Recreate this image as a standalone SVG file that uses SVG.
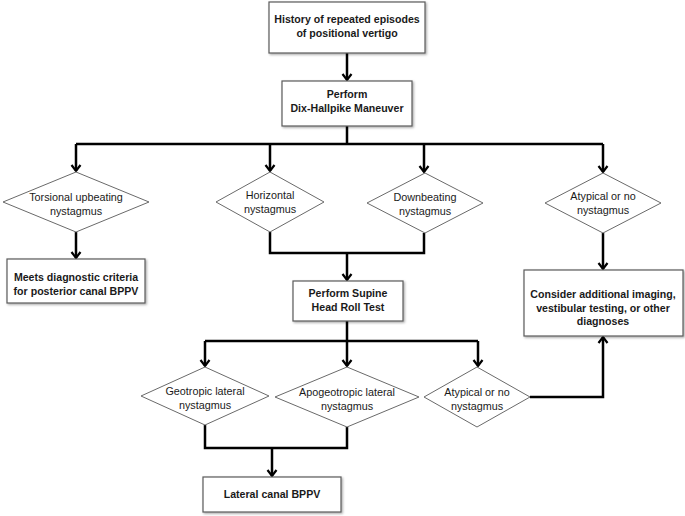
<svg xmlns="http://www.w3.org/2000/svg" width="685" height="516" viewBox="0 0 685 516">
<style>
.box{fill:#fff;stroke:#5a5a5a;stroke-width:1.2;filter:url(#sh)}
.dia{fill:#fff;stroke:#6a6a6a;stroke-width:1}
.bt{font-family:"Liberation Sans",Arial,sans-serif;font-weight:bold;font-size:10.6px;fill:#1a1a1a;text-anchor:middle}
.dt{font-family:"Liberation Sans",Arial,sans-serif;font-size:10.8px;fill:#1a1a1a;text-anchor:middle}
.c{fill:none;stroke:#000;stroke-width:2.5;stroke-linejoin:miter}
.a{marker-end:url(#ah)}
</style>
<defs>
<marker id="ah" markerUnits="userSpaceOnUse" markerWidth="14" markerHeight="14" viewBox="0 0 14 14" refX="11" refY="7" orient="auto">
<path d="M5,2.5 L11,7 L5,11.5" fill="none" stroke="#000" stroke-width="2.2"/>
</marker>
<filter id="sh" x="-5%" y="-5%" width="110%" height="115%">
<feDropShadow dx="1.2" dy="1.2" stdDeviation="0.8" flood-color="#000" flood-opacity="0.35"/>
</filter>
</defs>
<g id="connectors">
<path class="c a" d="M347,53 V80"/>
<path class="c" d="M347,126 V144 M76,144 H603"/>
<path class="c a" d="M76,144 V171"/>
<path class="c a" d="M270,144 V171"/>
<path class="c a" d="M424,144 V172"/>
<path class="c a" d="M603,144 V172"/>
<path class="c a" d="M76,232 V258"/>
<path class="c" d="M270,232 V253 H424 V233"/>
<path class="c a" d="M347,253 V280"/>
<path class="c a" d="M603,233 V269"/>
<path class="c" d="M347,321 V341 M205,341 H478"/>
<path class="c a" d="M205,341 V366"/>
<path class="c a" d="M347,341 V366"/>
<path class="c a" d="M478,341 V366"/>
<path class="c" d="M205,425 V448 H347 V427"/>
<path class="c a" d="M272,448 V476"/>
<path class="c a" d="M530,397 H603 V337"/>
</g>
<g id="history">
<rect class="box" x="269" y="2" width="156" height="51"/>
<text class="bt" x="347" y="23">History of repeated episodes</text>
<text class="bt" x="347" y="37">of positional vertigo</text>
</g>
<g id="dixhallpike">
<rect class="box" x="282" y="81" width="130" height="45"/>
<text class="bt" x="347" y="98">Perform</text>
<text class="bt" x="347" y="112">Dix-Hallpike Maneuver</text>
</g>
<g id="torsional">
<polygon class="dia" points="3,202 76,172 149,202 76,232"/>
<text class="dt" x="76" y="201">Torsional upbeating</text>
<text class="dt" x="76" y="215">nystagmus</text>
</g>
<g id="horizontal">
<polygon class="dia" points="216,202 270,172 324,202 270,232"/>
<text class="dt" x="270" y="199">Horizontal</text>
<text class="dt" x="270" y="213">nystagmus</text>
</g>
<g id="downbeating">
<polygon class="dia" points="367,203 425,173 483,203 425,233"/>
<text class="dt" x="425" y="201">Downbeating</text>
<text class="dt" x="425" y="215">nystagmus</text>
</g>
<g id="atypical1">
<polygon class="dia" points="545,203 603,173 661,203 603,233"/>
<text class="dt" x="603" y="200">Atypical or no</text>
<text class="dt" x="603" y="214">nystagmus</text>
</g>
<g id="posterior">
<rect class="box" x="7" y="259" width="138" height="44"/>
<text class="bt" x="76" y="281">Meets diagnostic criteria</text>
<text class="bt" x="76" y="295">for posterior canal BPPV</text>
</g>
<g id="supine">
<rect class="box" x="293" y="281" width="110" height="40"/>
<text class="bt" x="348" y="297">Perform Supine</text>
<text class="bt" x="348" y="311">Head Roll Test</text>
</g>
<g id="consider">
<rect class="box" x="524" y="270" width="159" height="66"/>
<text class="bt" x="603" y="298">Consider additional imaging,</text>
<text class="bt" x="603" y="312">vestibular testing, or other</text>
<text class="bt" x="603" y="325">diagnoses</text>
</g>
<g id="geotropic">
<polygon class="dia" points="141,396 205,367 269,396 205,425"/>
<text class="dt" x="205" y="395">Geotropic lateral</text>
<text class="dt" x="205" y="409">nystagmus</text>
</g>
<g id="apogeotropic">
<polygon class="dia" points="275,397 347,367 419,397 347,427"/>
<text class="dt" x="347" y="396">Apogeotropic lateral</text>
<text class="dt" x="347" y="410">nystagmus</text>
</g>
<g id="atypical2">
<polygon class="dia" points="424,397 477,367 530,397 477,427"/>
<text class="dt" x="477" y="396">Atypical or no</text>
<text class="dt" x="477" y="410">nystagmus</text>
</g>
<g id="lateral">
<rect class="box" x="203" y="477" width="138" height="35"/>
<text class="bt" x="272" y="498">Lateral canal BPPV</text>
</g>
</svg>
